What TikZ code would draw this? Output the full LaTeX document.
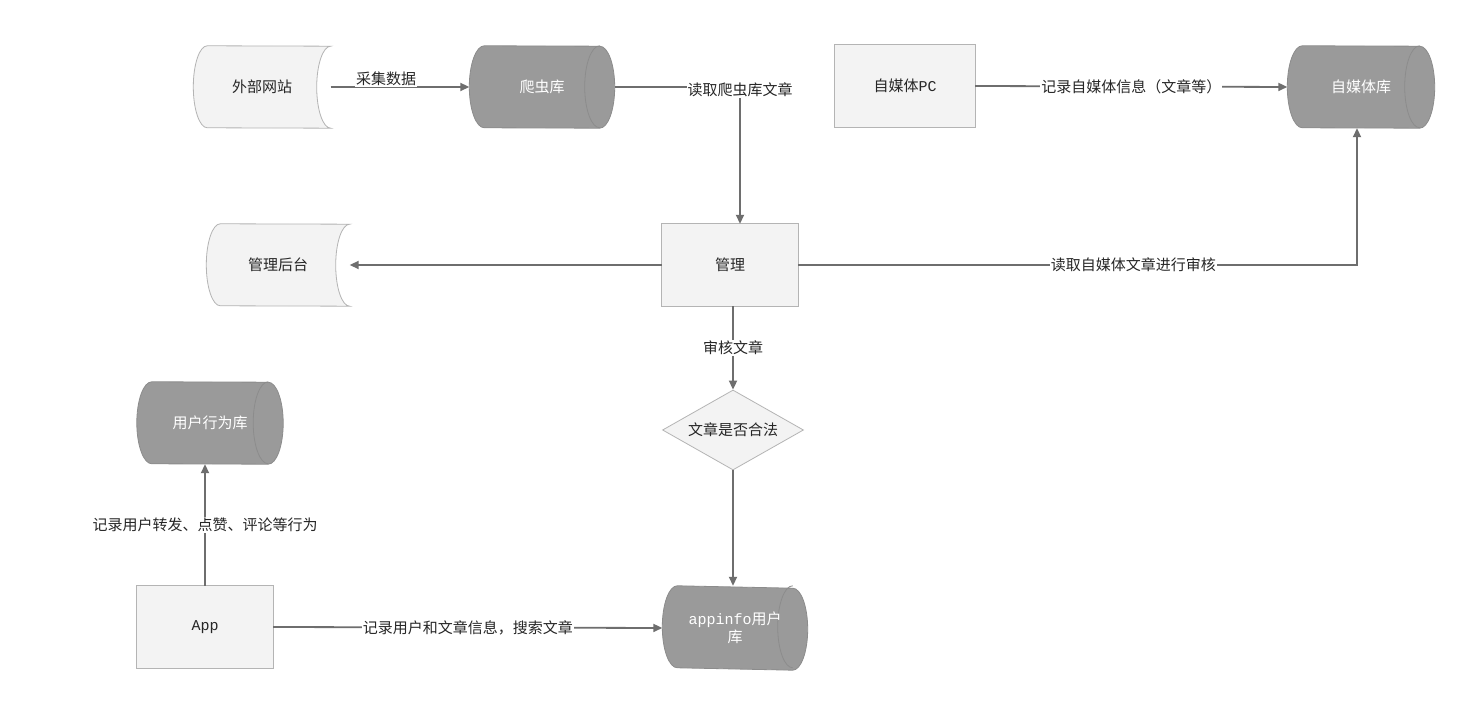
\documentclass[tikz,border=0pt]{standalone}
\usepackage{fontspec}
\setmainfont{Noto Sans CJK SC}
\newfontfamily\mono{Liberation Mono}
\usetikzlibrary{shapes.geometric,arrows.meta,backgrounds}
\definecolor{ln}{HTML}{6E6E6E}
\definecolor{cy}{HTML}{9A9A9A}
\definecolor{bx}{HTML}{F3F3F3}
\definecolor{bd}{HTML}{B4B4B4}
\tikzset{
 box/.style={draw=none,minimum height=82pt,inner sep=0pt,font=\fontsize{15}{18}\selectfont,text=black!85},
 cyltxt/.style={box,text=white},
 arr/.style={draw=ln,line width=1.8pt,-{Triangle[length=9pt,width=8pt]}},
 lab/.style={fill=white,inner sep=1pt,font=\fontsize{15}{18}\selectfont,text=black!85},
 rectfill/.style={fill=bx,draw=bd,line width=0.8pt},
 cylfill/.style={fill=cy,draw=black!45,line width=0.8pt},
}
\newcommand\mycyl[2]{% name, r
 \path[cylfill] ([xshift=#2pt]#1.north west) arc[start angle=90,end angle=270,x radius=#2pt,y radius=41pt]
   -- ([xshift=-#2pt]#1.south east) arc[start angle=-90,end angle=90,x radius=#2pt,y radius=41pt] -- cycle;
 \draw[black!45,line width=0.8pt] ([xshift=-#2pt]#1.north east) arc[start angle=90,end angle=270,x radius=#2pt,y radius=41pt];}
\newcommand\mystore[2]{%
 \path[rectfill] ([xshift=#2pt]#1.north west) arc[start angle=90,end angle=270,x radius=#2pt,y radius=41pt]
   -- (#1.south east) arc[start angle=270,end angle=90,x radius=#2pt,y radius=41pt] -- cycle;}
\begin{document}
\begin{tikzpicture}[x=1pt,y=1pt]
\useasboundingbox (0,0) rectangle (1473,703);
\node[box,minimum width=137pt] (web) at (262,616) {外部网站};
\node[cyltxt,minimum width=145pt] (crawl) at (542,616) {爬虫库};
\node[box,minimum width=140pt] (pc) at (905,617) {自媒体{\mono PC}};
\node[cyltxt,minimum width=147pt] (wm) at (1361,616) {自媒体库};
\node[box,minimum width=136pt] (mgmt) at (730,438) {管理};
\node[box,minimum width=143pt] (admin) at (278,438) {管理后台};
\node[diamond,draw=bd,fill=bx,line width=0.8pt,aspect=1.76,minimum width=141pt,minimum height=80pt,inner sep=0pt,font=\fontsize{15}{18}\selectfont,text=black!85] (dia) at (733,273) {文章是否合法};
\node[cyltxt,minimum width=146pt] (ub) at (210,280) {用户行为库};
\node[box,minimum width=136pt] (app) at (205,76) {\mono App};
\node[cyltxt,minimum width=145pt,minimum height=84pt,align=center,text width=120pt] (ai) at (735,75) {{\mono appinfo}用户\\库};
\begin{pgfonlayer}{background}
\fill[white] (0,0) rectangle (1473,703);
\mystore{web}{14}
\mystore{admin}{14}
\mycyl{crawl}{15}
\mycyl{wm}{15}
\mycyl{ub}{15}
\mycyl{ai}{15}
\path[rectfill] (pc.north west) rectangle (pc.south east);
\path[rectfill] (mgmt.north west) rectangle (mgmt.south east);
\path[rectfill] (app.north west) rectangle (app.south east);
\end{pgfonlayer}
\coordinate (c1) at (740,616);
\coordinate (c2) at (1357,438);
\draw[arr] (web.east) -- node[lab,pos=0.4,yshift=8pt]{采集数据} (crawl.west);
\draw[arr] (crawl.east) -- (c1) -- (c1 |- mgmt.north);
\node[lab] at (740,613) {读取爬虫库文章};
\draw[arr] (pc.east) -- node[lab]{记录自媒体信息（文章等）} (wm.west);
\draw[arr] (mgmt.east) -- node[lab,pos=0.6]{读取自媒体文章进行审核} (c2) -- (c2 |- wm.south);
\draw[arr] (mgmt.west) -- (admin.east);
\draw[arr] (mgmt.south -| dia.north) -- node[lab]{审核文章} (dia.north);
\draw[arr] (dia.south) -- (dia.south |- ai.north);
\draw[arr] (app.north) -- node[lab]{记录用户转发、点赞、评论等行为} (app.north |- ub.south);
\draw[arr] (app.east) -- node[lab]{记录用户和文章信息，搜索文章} (ai.west);
\end{tikzpicture}
\end{document}
